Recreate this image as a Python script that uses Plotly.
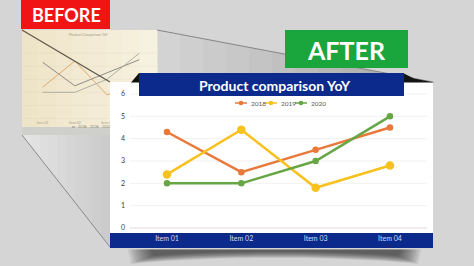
import plotly.graph_objects as go

W, H = 474, 266

# ---------------- data ----------------
categories = ["Item 01", "Item 02", "Item 03", "Item 04"]
years = ["2018", "2019", "2020"]
sales_2018 = [4.3, 2.5, 3.5, 4.5]
sales_2019 = [2.4, 4.4, 1.8, 2.8]
sales_2020 = [2.0, 2.0, 3.0, 5.0]
y_ticks = [0, 1, 2, 3, 4, 5, 6]
series = [sales_2018, sales_2019, sales_2020]

after_colors = ["#E8793A", "#F7C11E", "#67A644"]
after_sizes = [6.5, 8.5, 6.5]
before_colors = ["#8e8b83", "#dfa96c", "#b0ae9f"]

FONT = "Lato"


def px(x):
    return x / W


def py(y):
    return 1 - y / H


def poly(pts):
    return "M " + " L ".join(f"{px(x):.5f},{py(y):.5f}" for x, y in pts) + " Z"


def lerp_col(c1, c2, t):
    a = [int(c1[i:i + 2], 16) for i in (1, 3, 5)]
    b = [int(c2[i:i + 2], 16) for i in (1, 3, 5)]
    return "#" + "".join(f"{round(a[k] + (b[k] - a[k]) * t):02x}" for k in range(3))


shapes = []


def rect(x0, y0, x1, y1, color, layer="below", opacity=1):
    shapes.append(dict(type="rect", xref="paper", yref="paper",
                       x0=px(x0), x1=px(x1), y0=py(y1), y1=py(y0),
                       fillcolor=color, line=dict(width=0), layer=layer, opacity=opacity))


def path(pts, color, layer="below", opacity=1):
    shapes.append(dict(type="path", xref="paper", yref="paper", path=poly(pts),
                       fillcolor=color, line=dict(width=0), layer=layer, opacity=opacity))


def seg(x0, y0, x1, y1, color, width=1, layer="below"):
    shapes.append(dict(type="line", xref="paper", yref="paper",
                       x0=px(x0), x1=px(x1), y0=py(y0), y1=py(y1),
                       line=dict(color=color, width=width), layer=layer))


# ---- lower decorations ----
# left face of the zoom projection
n = 10
for i in range(n):
    xa = 22 + 88 * i / n
    xb = 22 + 88 * (i + 1) / n + 0.5
    top = lambda x: 30 + (x - 22) * 52 / 88
    bot = lambda x: 135 + (x - 22) * 112 / 88
    path([(xa, top(xa)), (xb, top(xb)), (xb, bot(xb)), (xa, bot(xa))],
         lerp_col("#e4e4e4", "#cbcbcb", i / (n - 1)))
# top face of the zoom projection
n = 12
for i in range(n):
    xa = 157 + 276 * i / n
    xb = 157 + 276 * (i + 1) / n + 0.5
    top = lambda x: 30 + (x - 157) * 52 / 276
    path([(xa, top(xa)), (xb, top(xb)), (xb, 83), (xa, 83)],
         lerp_col("#d3d3d3", "#a9a9a9", i / (n - 1)))

# "before" chart panel (soft gradient)
rect(22, 127, 157, 135, "#cfcfcc")
n = 8
for i in range(n):
    xa = 22 + 135 * i / n
    xb = 22 + 135 * (i + 1) / n + 0.5
    rect(xa, 30, xb, 127, lerp_col("#eee4c8", "#f7f1df", i / (n - 1)))
seg(22, 135, 110, 247, "#8a8a8a", 1)

# soft shadow under the "after" panel
for k in range(10):
    x0 = 128 + k * 2.5
    x1 = 421 - k * 2.2
    ye = 264 - k * 0.9
    ym = 256 - k * 0.6
    shapes.append(dict(type="path", xref="paper", yref="paper",
                       path=(f"M {px(x0):.5f},{py(249.5):.5f} L {px(x1):.5f},{py(249.5):.5f} "
                             f"L {px(x1 - 3):.5f},{py(ye):.5f} "
                             f"C {px(340):.5f},{py(ym):.5f} {px(210):.5f},{py(ym):.5f} "
                             f"{px(x0 + 3):.5f},{py(ye):.5f} Z"),
                       fillcolor="#000000", opacity=0.075, line=dict(width=0), layer="below"))

# bottom band of "after" chart
rect(110, 233, 433, 248, "#0b2a8b")

# gridlines of the after chart (inside its own plot layer)
for v in y_ticks:
    shapes.append(dict(type="line", xref="x2", yref="y2", x0=-0.5, x1=3.5, y0=v, y1=v,
                       line=dict(color="#e6dcdc" if v == 0 else "#f1f1f1", width=1),
                       layer="below"))
# gridlines of the before chart
for v in y_ticks[:6]:
    shapes.append(dict(type="line", xref="x", yref="y", x0=-0.62, x1=3.6, y0=v, y1=v,
                       line=dict(color="rgba(190,175,140,0.18)", width=0.6), layer="below"))

# ---- upper decorations ----
seg(22, 30, 110, 82, "#5f5749", 1.3, "above")
seg(157, 30, 433, 82, "#868686", 1, "above")
path([(139, 73), (131, 82.5), (139, 82.5)], "#111111", "above")
path([(403, 73), (414, 78.5), (434, 82.5), (403, 82.5)], "#141414", "above")
rect(139, 73, 404, 96, "#0b2a8b", "above")
rect(285, 30, 408, 68, "#1aa63c", "above")
rect(21, 0, 110, 29, "#f01414", "above")

annotations = [
    dict(text="<b>BEFORE</b>", x=px(66), y=py(15), font=dict(size=18, color="white", family=FONT)),
    dict(text="<b>AFTER</b>", x=px(346.5), y=py(50), font=dict(size=25, color="white", family=FONT)),
    dict(text="<b>Product comparison YoY</b>", x=px(275), y=py(85),
         font=dict(size=14, color="white", family=FONT)),
    dict(text="Product Comparison YoY", x=px(89), y=py(35),
         font=dict(size=3.6, color="#a59c88", family=FONT)),
]

# manual compact legends
for i, name in enumerate(years):
    x0 = 235 + 30 * i
    seg(x0, 103, x0 + 12, 103, after_colors[i], 1.5, "above")
    r = 2.3
    shapes.append(dict(type="circle", xref="paper", yref="paper",
                       x0=px(x0 + 6 - r), x1=px(x0 + 6 + r), y0=py(103 + r), y1=py(103 - r),
                       fillcolor=after_colors[i], line=dict(width=0), layer="above"))
    annotations.append(dict(text=name, x=px(x0 + 13.5), y=py(103), xanchor="left",
                            font=dict(size=6.5, color="#595959", family=FONT)))
    bx = 72 + 12 * i
    seg(bx, 127, bx + 3, 127, before_colors[i], 1, "above")
    annotations.append(dict(text=name, x=px(bx + 3.5), y=py(127), xanchor="left",
                            font=dict(size=3.5, color="#9a9484", family=FONT)))

for a in annotations:
    a.update(xref="paper", yref="paper", showarrow=False)
    a.setdefault("xanchor", "center")
    a.setdefault("yanchor", "middle")

fig = go.Figure()

# "before" chart (faded)
for i, name in enumerate(years):
    fig.add_trace(go.Scatter(x=categories, y=series[i], name=name, mode="lines",
                             line=dict(color=before_colors[i], width=1),
                             xaxis="x", yaxis="y", showlegend=False, hoverinfo="skip"))
# "after" chart
for i, name in enumerate(years):
    fig.add_trace(go.Scatter(x=categories, y=series[i], name=name, mode="lines+markers",
                             line=dict(color=after_colors[i], width=2.5),
                             marker=dict(color=after_colors[i], size=after_sizes[i]),
                             xaxis="x2", yaxis="y2", showlegend=False))

fig.update_layout(
    width=W, height=H, autosize=False,
    margin=dict(l=0, r=0, t=0, b=0, pad=0),
    paper_bgcolor="#d5d5d5", plot_bgcolor="#ffffff",
    font=dict(family=FONT),
    showlegend=False,
    shapes=shapes, annotations=annotations,
    xaxis=dict(domain=[px(22), px(157)], anchor="y", type="category",
               range=[-0.643, 3.55], showgrid=False, zeroline=False, showline=False,
               ticks="", tickfont=dict(size=3.5, color="#a39d8d"), fixedrange=True),
    yaxis=dict(domain=[py(119), py(30)], anchor="x", range=[-0.046, 6.78],
               showgrid=False, zeroline=False, showticklabels=False, fixedrange=True),
    xaxis2=dict(domain=[px(110), px(433)], anchor="y2", type="category",
                range=[-0.767, 3.579], showgrid=False, zeroline=False, showline=False,
                ticks="", tickfont=dict(size=7, color="#d3daf0"), fixedrange=True),
    yaxis2=dict(domain=[py(233), py(82)], anchor="x2", range=[-0.224, 6.538],
                tickvals=y_ticks, ticklabelposition="inside", ticklabelstandoff=8,
                showgrid=False, zeroline=False, showline=False, ticks="",
                tickfont=dict(size=7, color="#404040"), fixedrange=True),
)

fig.write_html("out.html")
